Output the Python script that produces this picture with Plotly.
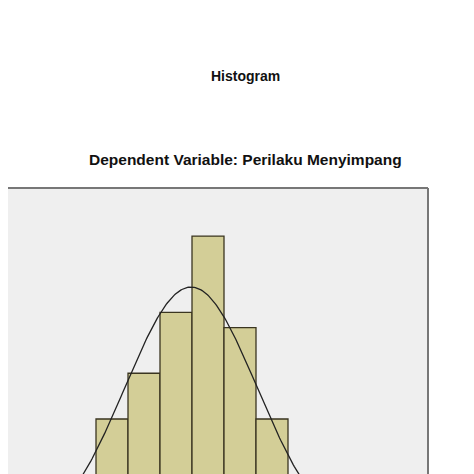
import numpy as np
import plotly.graph_objects as go

bin_lefts = [0, 1, 2, 3, 4, 5]
counts = [8, 11, 15, 20, 14, 8]
mean, sd, n = 2.97, 2.06, 86

x_curve = np.linspace(-3, 11, 400)
y_curve = n / (sd * np.sqrt(2 * np.pi)) * np.exp(-((x_curve - mean) ** 2) / (2 * sd ** 2))

fig = go.Figure()
fig.add_trace(go.Bar(x=[b + 0.5 for b in bin_lefts], y=counts, width=1,
                     marker=dict(color="#d3ce97", line=dict(color="#3a3520", width=1.3))))
fig.add_trace(go.Scatter(x=x_curve, y=y_curve, mode="lines", line=dict(color="#222222", width=1.3)))

fig.update_layout(
    width=474, height=474, showlegend=False,
    paper_bgcolor="white", plot_bgcolor="#efefef",
    margin=dict(l=0, r=54, t=180, b=0, pad=0, autoexpand=False),
    font=dict(family="Liberation Sans, Arial", color="#111111"),
    xaxis=dict(range=[-2.75, 10.375], showgrid=False, zeroline=False, showticklabels=False, ticks="", automargin=False),
    yaxis=dict(range=[3.87, 23.15], showgrid=False, zeroline=False, showticklabels=False, ticks="", automargin=False),
    shapes=[
        dict(type="line", xref="paper", yref="paper", x0=0, x1=1, y0=1, y1=1, line=dict(color="#777777", width=2)),
        dict(type="line", xref="paper", yref="paper", x0=1, x1=1, y0=0, y1=1, line=dict(color="#777777", width=2)),
    ],
    annotations=[
        dict(text="<b>Histogram</b>", xref="paper", yref="paper", x=237/420, y=1 + (180-68)/294, showarrow=False,
             font=dict(size=14), xanchor="center", yanchor="middle"),
        dict(text="<b>Dependent Variable: Perilaku Menyimpang</b>", xref="paper", yref="paper",
             x=237/420, y=1 + (180-151)/294, showarrow=False, font=dict(size=15.5), xanchor="center", yanchor="middle"),
        dict(text="Mean = 2.97E-16<br> Std. Dev. = 0.976<br> N = 86", xref="paper", yref="paper",
             x=457/420, y=1 - (203-180)/294, showarrow=False, font=dict(size=10), xanchor="left", yanchor="top", align="left"),
    ],
)
fig.write_html("out.html")
